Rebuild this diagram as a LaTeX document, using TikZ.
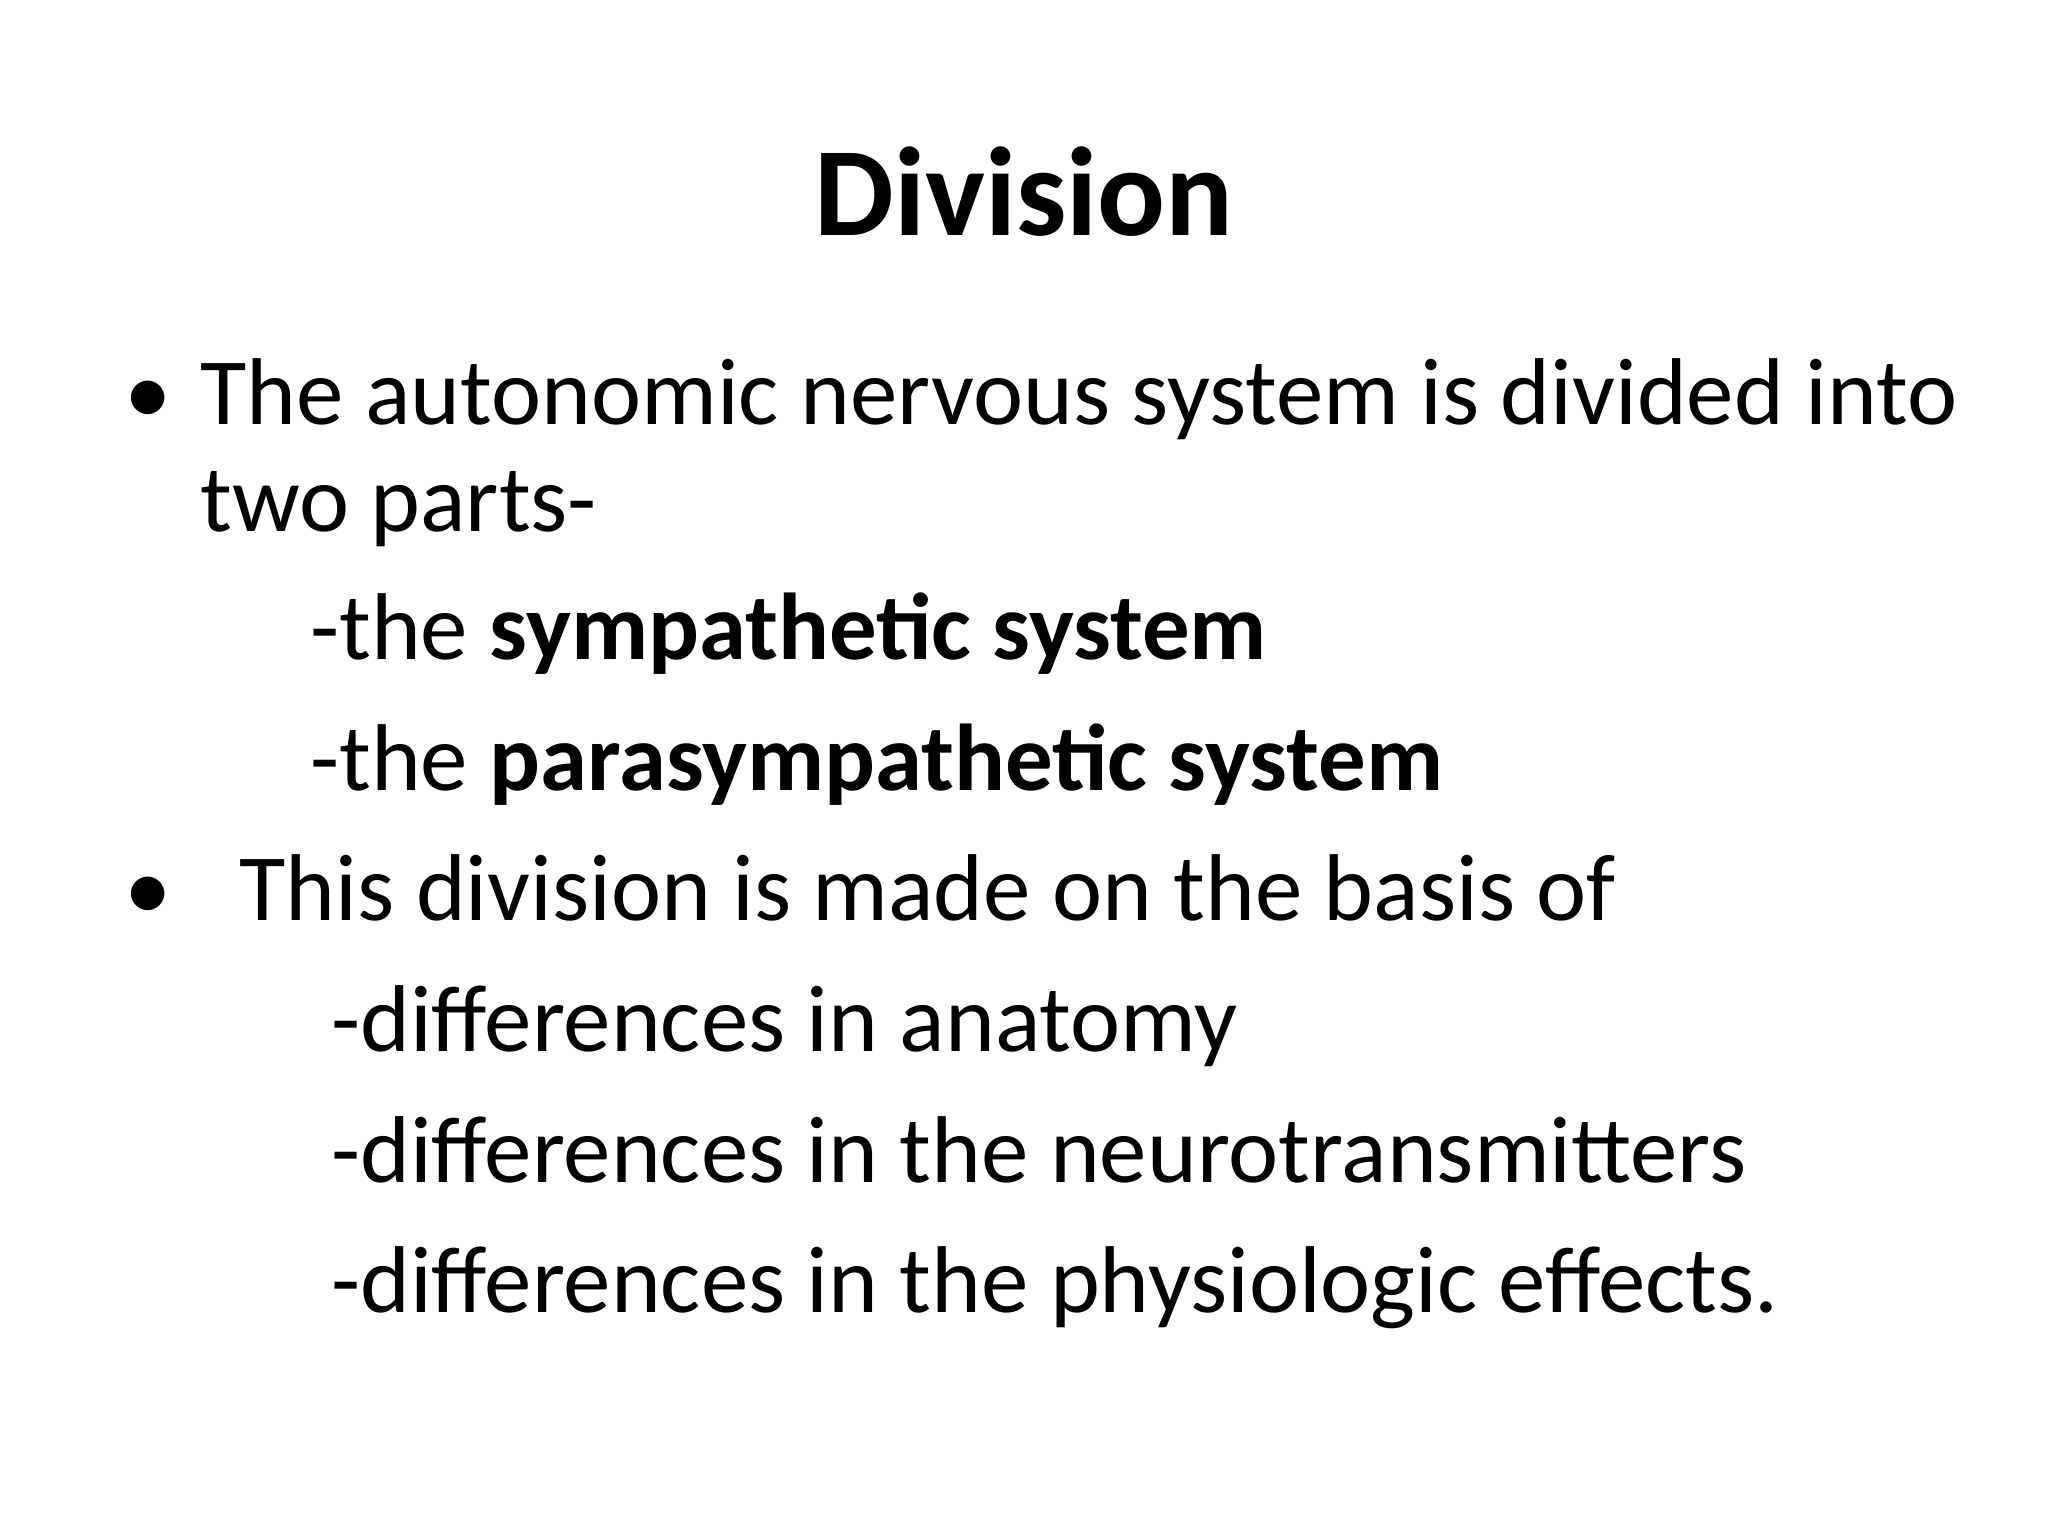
\documentclass[tikz,border=0pt]{standalone}
\usepackage{fontspec}
\setmainfont{Carlito}
\begin{document}
\begin{tikzpicture}[x=0.013061cm,y=-0.013061cm,
  body/.style={anchor=base west,inner sep=0pt,font=\fontsize{27}{32}\selectfont}]
\useasboundingbox[fill=white] (0,0) rectangle (1568,1176);
\node[anchor=base,inner sep=0pt,font=\fontsize{36}{42}\selectfont\bfseries] (t) at (784,180) {Division};
\node[body] (b1) at (95,325) {•};
\node[body] (l1) at (153,325) {The autonomic nervous system is divided into};
\node[body] (l2) at (153,407) {two parts-};
\node[body] (l3) at (237,505) {-the \textbf{sympathetic system}};
\node[body] (l4) at (237,605) {-the \textbf{parasympathetic system}};
\node[body] (b2) at (95,705) {•};
\node[body] (l5) at (183,705) {This division is made on the basis of};
\node[body] (l6) at (253,805) {-differences in anatomy};
\node[body] (l7) at (253,905) {-differences in the neurotransmitters};
\node[body] (l8) at (253,1005) {-differences in the physiologic effects.};
\end{tikzpicture}
\end{document}
